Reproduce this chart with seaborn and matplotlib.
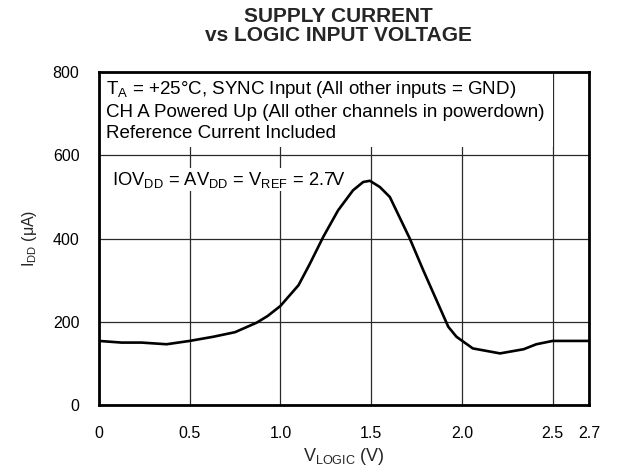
import matplotlib
matplotlib.use("Agg")
import matplotlib.pyplot as plt
from matplotlib.patches import Rectangle
import numpy as np
import pandas as pd
import seaborn as sns

# Supply current vs. logic input voltage (TA = +25°C)
v_logic = [0.0, 0.125, 0.235, 0.373, 0.50, 0.63, 0.75, 0.87, 0.93, 1.00,
           1.10, 1.163, 1.236, 1.318, 1.40, 1.456, 1.493, 1.548, 1.603, 1.713,
           1.787, 1.86, 1.925, 1.97, 2.06, 2.21, 2.34, 2.41, 2.50, 2.70]
i_dd = [154, 150, 150, 146, 154, 164, 175, 198, 214, 238,
        288, 340, 404, 468, 516, 536, 539, 524, 500, 400,
        324, 252, 188, 164, 136, 124, 134, 146, 154, 154]

x_ticks = [0, 0.5, 1.0, 1.5, 2.0, 2.5, 2.7]
x_tick_labels = ["0", "0.5", "1.0", "1.5", "2.0", "2.5", "2.7"]
y_ticks = [0, 200, 400, 600, 800]
y_tick_labels = ["0", "200", "400", "600", "800"]

sns.set_style("white")
plt.rcParams["font.family"] = ["Liberation Sans", "DejaVu Sans"]
plt.rcParams["mathtext.fontset"] = "custom"
plt.rcParams["mathtext.rm"] = "Liberation Sans"
plt.rcParams["mathtext.it"] = "Liberation Sans:italic"
plt.rcParams["mathtext.bf"] = "Liberation Sans:bold"

df = pd.DataFrame({"v": v_logic, "i": i_dd})

fig = plt.figure(figsize=(6.18, 4.72), dpi=100)
ax = fig.add_axes([0.160, 0.142, 0.793, 0.705])

sns.lineplot(data=df, x="v", y="i", ax=ax, color="black", linewidth=1.9,
             zorder=3, sort=False)

ax.set_xlim(0, 2.7)
ax.set_ylim(0, 800)
ax.set_xticks(x_ticks)
ax.set_xticklabels(x_tick_labels)
ax.set_yticks(y_ticks)
ax.set_yticklabels(y_tick_labels)
ax.tick_params(axis="both", length=0, labelsize=11.5, colors="black")
ax.tick_params(axis="x", pad=15)
ax.tick_params(axis="y", pad=14)

ax.grid(True, color="#2a2a2a", linewidth=0.9)
ax.set_axisbelow(True)
for s in ax.spines.values():
    s.set_visible(True)
    s.set_color("black")
    s.set_linewidth(2.0)

# white panel behind the condition notes
ax.add_patch(Rectangle((0, 620), 2.5, 180, facecolor="white",
                       edgecolor="none", zorder=1))

note_kw = dict(fontsize=13.5, color="black", ha="left", va="center", zorder=4)
ax.text(0.04, 758, r"T$_\mathregular{A}$ = +25°C, SYNC Input (All other inputs = GND)", **note_kw)
ax.text(0.04, 704, "CH A Powered Up (All other channels in powerdown)", **note_kw)
ax.text(0.04, 652, "Reference Current Included", **note_kw)
ax.text(0.072, 541,
        r"IOV$_\mathregular{DD}$ = AV$_\mathregular{DD}$ = V$_\mathregular{REF}$ = 2.7V",
        bbox=dict(facecolor="white", edgecolor="none", pad=1.0),
        fontsize=13.2, color="black", ha="left", va="center", zorder=2.5)

ax.set_xlabel(r"V$_\mathregular{LOGIC}$ (V)", fontsize=13, labelpad=4)
ax.set_ylabel(r"I$_\mathregular{DD}$ ($\mathregular{\mu}$A)", fontsize=11.5, labelpad=10)

fig.text(0.547, 0.945, "SUPPLY CURRENT\nvs LOGIC INPUT VOLTAGE", ha="center",
         va="center", fontsize=15, fontweight="bold", linespacing=1.0)

fig.savefig("out.png", dpi=100, facecolor="white")
